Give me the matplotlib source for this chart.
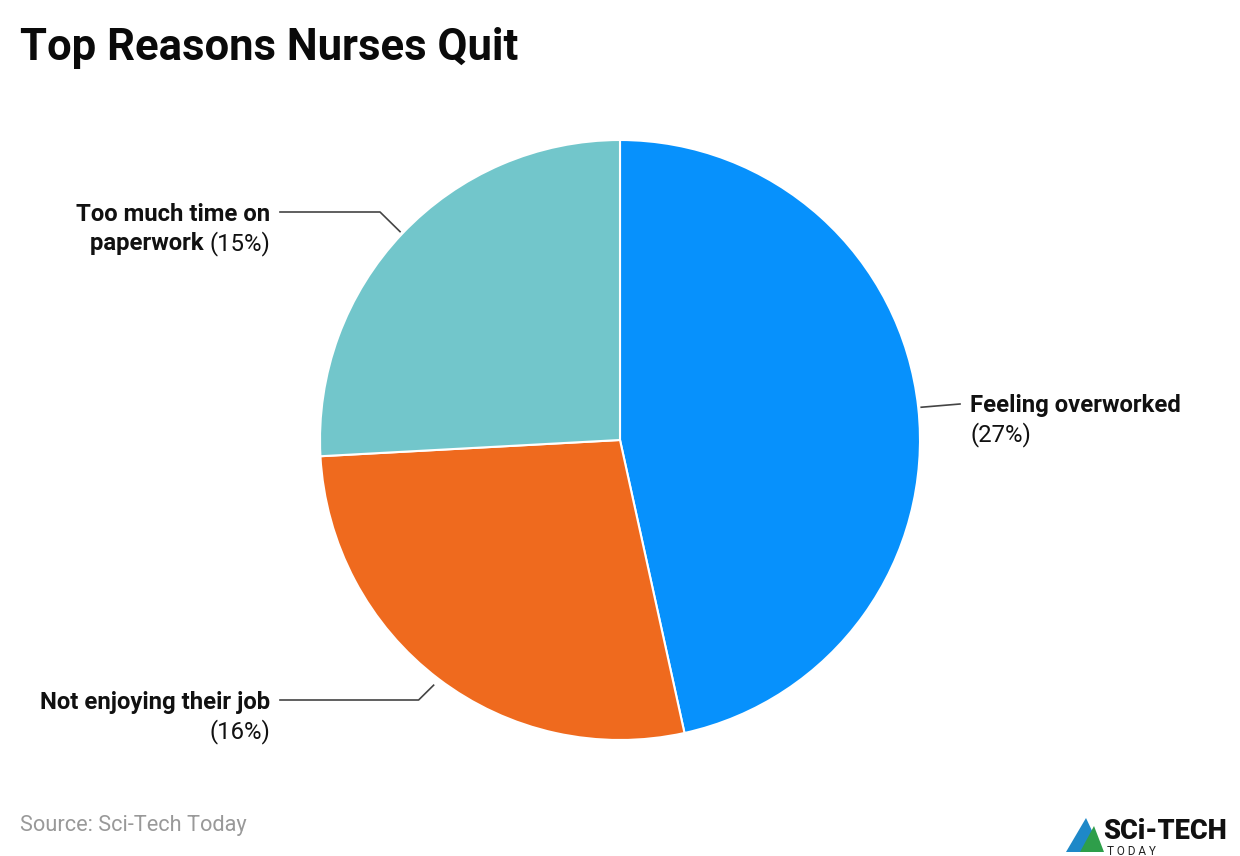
import numpy as np
import matplotlib
matplotlib.use("Agg")
import matplotlib.pyplot as plt
from matplotlib.patches import Polygon

plt.rcParams["font.family"] = ["Roboto", "DejaVu Sans"]

# data
reasons = ["Feeling overworked", "Not enjoying their job", "Too much time on paperwork"]
shares = [27, 16, 15]
colors = ["#0791FC", "#EF6A1E", "#72C6CB"]

W, H = 1240, 856
fig = plt.figure(figsize=(W / 100, H / 100), dpi=100)
ax = fig.add_axes([0, 0, 1, 1])

cx, cy, r = 620, H - 440, 300
wedges, _ = ax.pie(shares, colors=colors, startangle=90, counterclock=False,
                   center=(cx, cy), radius=r,
                   wedgeprops=dict(edgecolor="white", linewidth=1.5))
ax.set_aspect("auto")
ax.set_xlim(0, W)
ax.set_ylim(0, H)
ax.axis("off")

renderer = fig.canvas.get_renderer()


def text_line(x, y, parts, align="left", size=17.2):
    """parts: list of (string, weight). y is baseline in top-down pixels."""
    widths = []
    artists = []
    for s, w in parts:
        t = ax.text(0, H - y, s, fontsize=size, fontweight=w, color="#111111",
                    va="baseline", ha="left")
        widths.append(t.get_window_extent(renderer).width)
        artists.append(t)
    total = sum(widths)
    x0 = x if align == "left" else x - total
    for t, wd in zip(artists, widths):
        t.set_x(x0)
        x0 += wd


def edge_point(w, extra=0):
    mid = np.deg2rad((w.theta1 + w.theta2) / 2)
    return cx + (r + extra) * np.cos(mid), cy + (r + extra) * np.sin(mid)


lc = "#444444"

# Feeling overworked (right)
ex, ey = edge_point(wedges[0], 3)
ax.plot([ex, 960], [ey, H - 404], color=lc, lw=1.2)
text_line(970, 412, [("Feeling overworked", "bold")])
text_line(970, 441, [("(27%)", "normal")])

# Not enjoying their job (lower left)
ex, ey = edge_point(wedges[1], 8)
ax.plot([ex, ex - 15, 280], [ey, H - 700, H - 700], color=lc, lw=1.2)
text_line(270, 709, [("Not enjoying their job", "bold")], align="right")
text_line(270, 738, [("(16%)", "normal")], align="right")

# Too much time on paperwork (upper left)
ex, ey = edge_point(wedges[2], 3)
ax.plot([ex, ex - 20, 280], [ey, H - 212, H - 212], color=lc, lw=1.2)
text_line(270, 221, [("Too much time on", "bold")], align="right")
text_line(270, 250, [("paperwork ", "bold"), ("(15%)", "normal")], align="right")

# title and source
ax.text(20, H - 60, "Top Reasons Nurses Quit", fontsize=31.4, fontweight="bold",
        color="#0a0a0a", va="baseline", ha="left")
ax.text(20, H - 831, "Source: Sci-Tech Today", fontsize=15.7, color="#999999",
        va="baseline", ha="left")

# logo
ax.add_patch(Polygon([[1066, H - 852], [1086, H - 818], [1102, H - 852]],
                     closed=True, facecolor="#1E88C8", edgecolor="none"))
ax.add_patch(Polygon([[1080, H - 852], [1094, H - 826], [1104, H - 852]],
                     closed=True, facecolor="#2E9E4A", edgecolor="none"))
ax.text(1103, H - 839, "SCi-TECH", fontsize=19.5, fontweight="black",
        color="#111111", va="baseline", ha="left")
ax.text(1107, H - 855, "T O D A Y", fontsize=8.5, color="#222222",
        va="baseline", ha="left")

fig.savefig("out.png", dpi=100)
